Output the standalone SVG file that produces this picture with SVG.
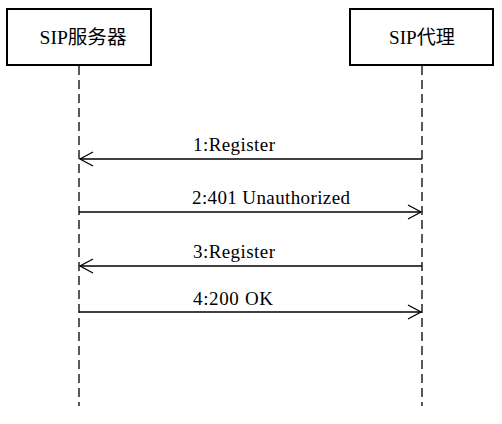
<svg xmlns="http://www.w3.org/2000/svg" width="502" height="424" viewBox="0 0 502 424">
<defs>
<style>
.box{fill:#fff;stroke:#000;stroke-width:2}
.life{stroke:#000;stroke-width:1.3;stroke-dasharray:9 5;fill:none}
.msg{stroke:#000;stroke-width:1.3;fill:none}
.lbl{font-family:"Liberation Serif","Noto Sans CJK SC",serif;font-size:19px;fill:#000}
.nm{font-family:"Liberation Serif","Noto Sans CJK SC",serif;font-size:19px;fill:#000;text-anchor:middle}
</style>
<marker id="open" markerWidth="16" markerHeight="16" refX="14" refY="8" orient="auto" markerUnits="userSpaceOnUse">
<path d="M1,1 L14,8 L1,15" fill="none" stroke="#000" stroke-width="1.3"/>
</marker>
</defs>
<rect width="502" height="424" fill="#fff"/>
<g id="node-server">
<rect class="box" x="7" y="9" width="144" height="56"/>
<text class="nm" x="83" y="44" textLength="87" lengthAdjust="spacingAndGlyphs">SIP服务器</text>
</g>
<g id="node-proxy">
<rect class="box" x="350" y="9" width="143" height="56"/>
<text class="nm" x="422" y="44" textLength="66" lengthAdjust="spacingAndGlyphs">SIP代理</text>
</g>
<g id="connectors">
<line class="life" x1="79" y1="66" x2="79" y2="406"/>
<line class="life" x1="422" y1="66" x2="422" y2="406"/>
<line class="msg" x1="422" y1="159" x2="80" y2="159" marker-end="url(#open)"/>
<text class="lbl" x="193" y="151" textLength="82" lengthAdjust="spacing">1:Register</text>
<line class="msg" x1="79" y1="212" x2="421" y2="212" marker-end="url(#open)"/>
<text class="lbl" x="192" y="204" textLength="158" lengthAdjust="spacing">2:401 Unauthorized</text>
<line class="msg" x1="422" y1="266" x2="80" y2="266" marker-end="url(#open)"/>
<text class="lbl" x="193" y="258" textLength="82" lengthAdjust="spacing">3:Register</text>
<line class="msg" x1="79" y1="312" x2="421" y2="312" marker-end="url(#open)"/>
<text class="lbl" x="193" y="305" textLength="80" lengthAdjust="spacing">4:200 OK</text>
</g>
</svg>
